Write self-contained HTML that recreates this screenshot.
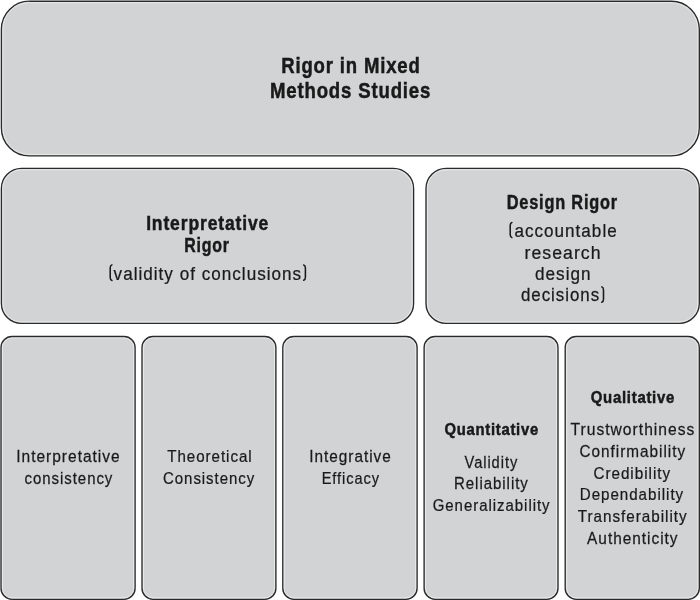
<!DOCTYPE html><html><head><meta charset="utf-8"><style>html,body{margin:0;padding:0;background:#fff;width:700px;height:600px;overflow:hidden}svg{display:block;will-change:transform}text{font-family:"Liberation Sans",sans-serif;fill:#1a1a1a}</style></head><body>
<svg width="700" height="600" viewBox="0 0 700 600">
<rect x="1.4" y="1.2" width="697.90" height="154.70" rx="28" fill="#d1d3d4" stroke="#2a2a2a" stroke-width="1.35"/>
<rect x="2.8499999999999996" y="2.65" width="695.00" height="151.80" rx="26.55" fill="none" stroke="#fff" stroke-opacity="0.5" stroke-width="1"/>
<rect x="1.4" y="168.4" width="412.20" height="155.00" rx="20" fill="#d1d3d4" stroke="#2a2a2a" stroke-width="1.35"/>
<rect x="2.8499999999999996" y="169.85" width="409.30" height="152.10" rx="18.55" fill="none" stroke="#fff" stroke-opacity="0.5" stroke-width="1"/>
<rect x="426.0" y="168.4" width="273.30" height="155.00" rx="20" fill="#d1d3d4" stroke="#2a2a2a" stroke-width="1.35"/>
<rect x="427.45" y="169.85" width="270.40" height="152.10" rx="18.55" fill="none" stroke="#fff" stroke-opacity="0.5" stroke-width="1"/>
<rect x="1.0" y="336.5" width="134.10" height="262.80" rx="11" fill="#d1d3d4" stroke="#2a2a2a" stroke-width="1.35"/>
<rect x="2.45" y="337.95" width="131.20" height="259.90" rx="9.55" fill="none" stroke="#fff" stroke-opacity="0.5" stroke-width="1"/>
<rect x="142.0" y="336.5" width="133.90" height="262.80" rx="11" fill="#d1d3d4" stroke="#2a2a2a" stroke-width="1.35"/>
<rect x="143.45" y="337.95" width="131.00" height="259.90" rx="9.55" fill="none" stroke="#fff" stroke-opacity="0.5" stroke-width="1"/>
<rect x="282.8" y="336.5" width="134.30" height="262.80" rx="11" fill="#d1d3d4" stroke="#2a2a2a" stroke-width="1.35"/>
<rect x="284.25" y="337.95" width="131.40" height="259.90" rx="9.55" fill="none" stroke="#fff" stroke-opacity="0.5" stroke-width="1"/>
<rect x="424.1" y="336.5" width="133.90" height="262.80" rx="11" fill="#d1d3d4" stroke="#2a2a2a" stroke-width="1.35"/>
<rect x="425.55" y="337.95" width="131.00" height="259.90" rx="9.55" fill="none" stroke="#fff" stroke-opacity="0.5" stroke-width="1"/>
<rect x="565.2" y="336.5" width="134.10" height="262.80" rx="11" fill="#d1d3d4" stroke="#2a2a2a" stroke-width="1.35"/>
<rect x="566.6500000000001" y="337.95" width="131.20" height="259.90" rx="9.55" fill="none" stroke="#fff" stroke-opacity="0.5" stroke-width="1"/>
<text transform="translate(281.16,72.6) scale(0.8393,1)" font-size="22.1" letter-spacing="1.000" font-weight="bold" fill="#111" stroke="#111" stroke-width="0.45">Rigor in Mixed</text>
<text transform="translate(269.96,97.6) scale(0.8413,1)" font-size="22.1" letter-spacing="1.000" font-weight="bold" fill="#111" stroke="#111" stroke-width="0.45">Methods Studies</text>
<text transform="translate(146.14,230.4) scale(0.8630,1)" font-size="20.3" letter-spacing="1.000" font-weight="bold" fill="#111" stroke="#111" stroke-width="0.45">Interpretative</text>
<text transform="translate(184.22,252.0) scale(0.7849,1)" font-size="20.3" letter-spacing="1.000" font-weight="bold" fill="#111" stroke="#111" stroke-width="0.45">Rigor</text>
<text transform="translate(113.60,279.7) scale(0.9189,1)" font-size="18.6" letter-spacing="1.100" stroke="#1a1a1a" stroke-width="0.25">validity of conclusions</text>
<text transform="translate(506.78,208.7) scale(0.8153,1)" font-size="20.0" letter-spacing="1.000" font-weight="bold" fill="#111" stroke="#111" stroke-width="0.45">Design Rigor</text>
<text transform="translate(514.40,236.6) scale(0.9194,1)" font-size="18.6" letter-spacing="1.100" stroke="#1a1a1a" stroke-width="0.25">accountable</text>
<text transform="translate(524.45,258.5) scale(0.9517,1)" font-size="18.6" letter-spacing="1.100" stroke="#1a1a1a" stroke-width="0.25">research</text>
<text transform="translate(535.00,279.6) scale(0.9224,1)" font-size="18.6" letter-spacing="1.100" stroke="#1a1a1a" stroke-width="0.25">design</text>
<text transform="translate(520.90,300.9) scale(0.9068,1)" font-size="18.6" letter-spacing="1.100" stroke="#1a1a1a" stroke-width="0.25">decisions</text>
<text transform="translate(16.20,462.3) scale(0.9031,1)" font-size="17.2" letter-spacing="1.100" stroke="#1a1a1a" stroke-width="0.25">Interpretative</text>
<text transform="translate(24.50,483.8) scale(0.8715,1)" font-size="17.2" letter-spacing="1.100" stroke="#1a1a1a" stroke-width="0.25">consistency</text>
<text transform="translate(167.30,462.3) scale(0.8781,1)" font-size="17.2" letter-spacing="1.100" stroke="#1a1a1a" stroke-width="0.25">Theoretical</text>
<text transform="translate(163.00,483.8) scale(0.8722,1)" font-size="17.2" letter-spacing="1.100" stroke="#1a1a1a" stroke-width="0.25">Consistency</text>
<text transform="translate(309.21,462.3) scale(0.8941,1)" font-size="17.2" letter-spacing="1.100" stroke="#1a1a1a" stroke-width="0.25">Integrative</text>
<text transform="translate(321.65,483.8) scale(0.8482,1)" font-size="17.2" letter-spacing="1.100" stroke="#1a1a1a" stroke-width="0.25">Efficacy</text>
<text transform="translate(444.60,434.9) scale(0.8839,1)" font-size="16.8" letter-spacing="0.800" font-weight="bold" fill="#111" stroke="#111" stroke-width="0.45">Quantitative</text>
<text transform="translate(464.50,467.8) scale(0.8532,1)" font-size="17.2" letter-spacing="1.100" stroke="#1a1a1a" stroke-width="0.25">Validity</text>
<text transform="translate(454.03,489.2) scale(0.8731,1)" font-size="17.2" letter-spacing="1.100" stroke="#1a1a1a" stroke-width="0.25">Reliability</text>
<text transform="translate(432.70,510.8) scale(0.8727,1)" font-size="17.2" letter-spacing="1.100" stroke="#1a1a1a" stroke-width="0.25">Generalizability</text>
<text transform="translate(590.70,403.0) scale(0.8912,1)" font-size="16.8" letter-spacing="0.800" font-weight="bold" fill="#111" stroke="#111" stroke-width="0.45">Qualitative</text>
<text transform="translate(570.50,435.3) scale(0.9102,1)" font-size="17.2" letter-spacing="1.100" stroke="#1a1a1a" stroke-width="0.25">Trustworthiness</text>
<text transform="translate(579.50,457.0) scale(0.8922,1)" font-size="17.2" letter-spacing="1.100" stroke="#1a1a1a" stroke-width="0.25">Confirmability</text>
<text transform="translate(593.40,478.6) scale(0.8876,1)" font-size="17.2" letter-spacing="1.100" stroke="#1a1a1a" stroke-width="0.25">Credibility</text>
<text transform="translate(579.72,500.3) scale(0.8813,1)" font-size="17.2" letter-spacing="1.100" stroke="#1a1a1a" stroke-width="0.25">Dependability</text>
<text transform="translate(577.80,521.9) scale(0.8871,1)" font-size="17.2" letter-spacing="1.100" stroke="#1a1a1a" stroke-width="0.25">Transferability</text>
<text transform="translate(587.10,543.6) scale(0.8959,1)" font-size="17.2" letter-spacing="1.100" stroke="#1a1a1a" stroke-width="0.25">Authenticity</text>
<path d="M111.90,264.88 Q110.20,265.38 110.20,267.88 L110.20,277.53 Q110.20,280.03 111.90,280.53" fill="none" stroke="#1a1a1a" stroke-width="1.55" stroke-linecap="round"/>
<path d="M303.70,265.07 Q305.40,265.57 305.40,268.07 L305.40,277.23 Q305.40,279.73 303.70,280.23" fill="none" stroke="#1a1a1a" stroke-width="1.55" stroke-linecap="round"/>
<path d="M511.90,222.58 Q510.20,223.08 510.20,225.58 L510.20,234.62 Q510.20,237.12 511.90,237.62" fill="none" stroke="#1a1a1a" stroke-width="1.55" stroke-linecap="round"/>
<path d="M601.80,286.88 Q603.50,287.38 603.50,289.88 L603.50,299.23 Q603.50,301.73 601.80,302.23" fill="none" stroke="#1a1a1a" stroke-width="1.55" stroke-linecap="round"/>
</svg></body></html>
